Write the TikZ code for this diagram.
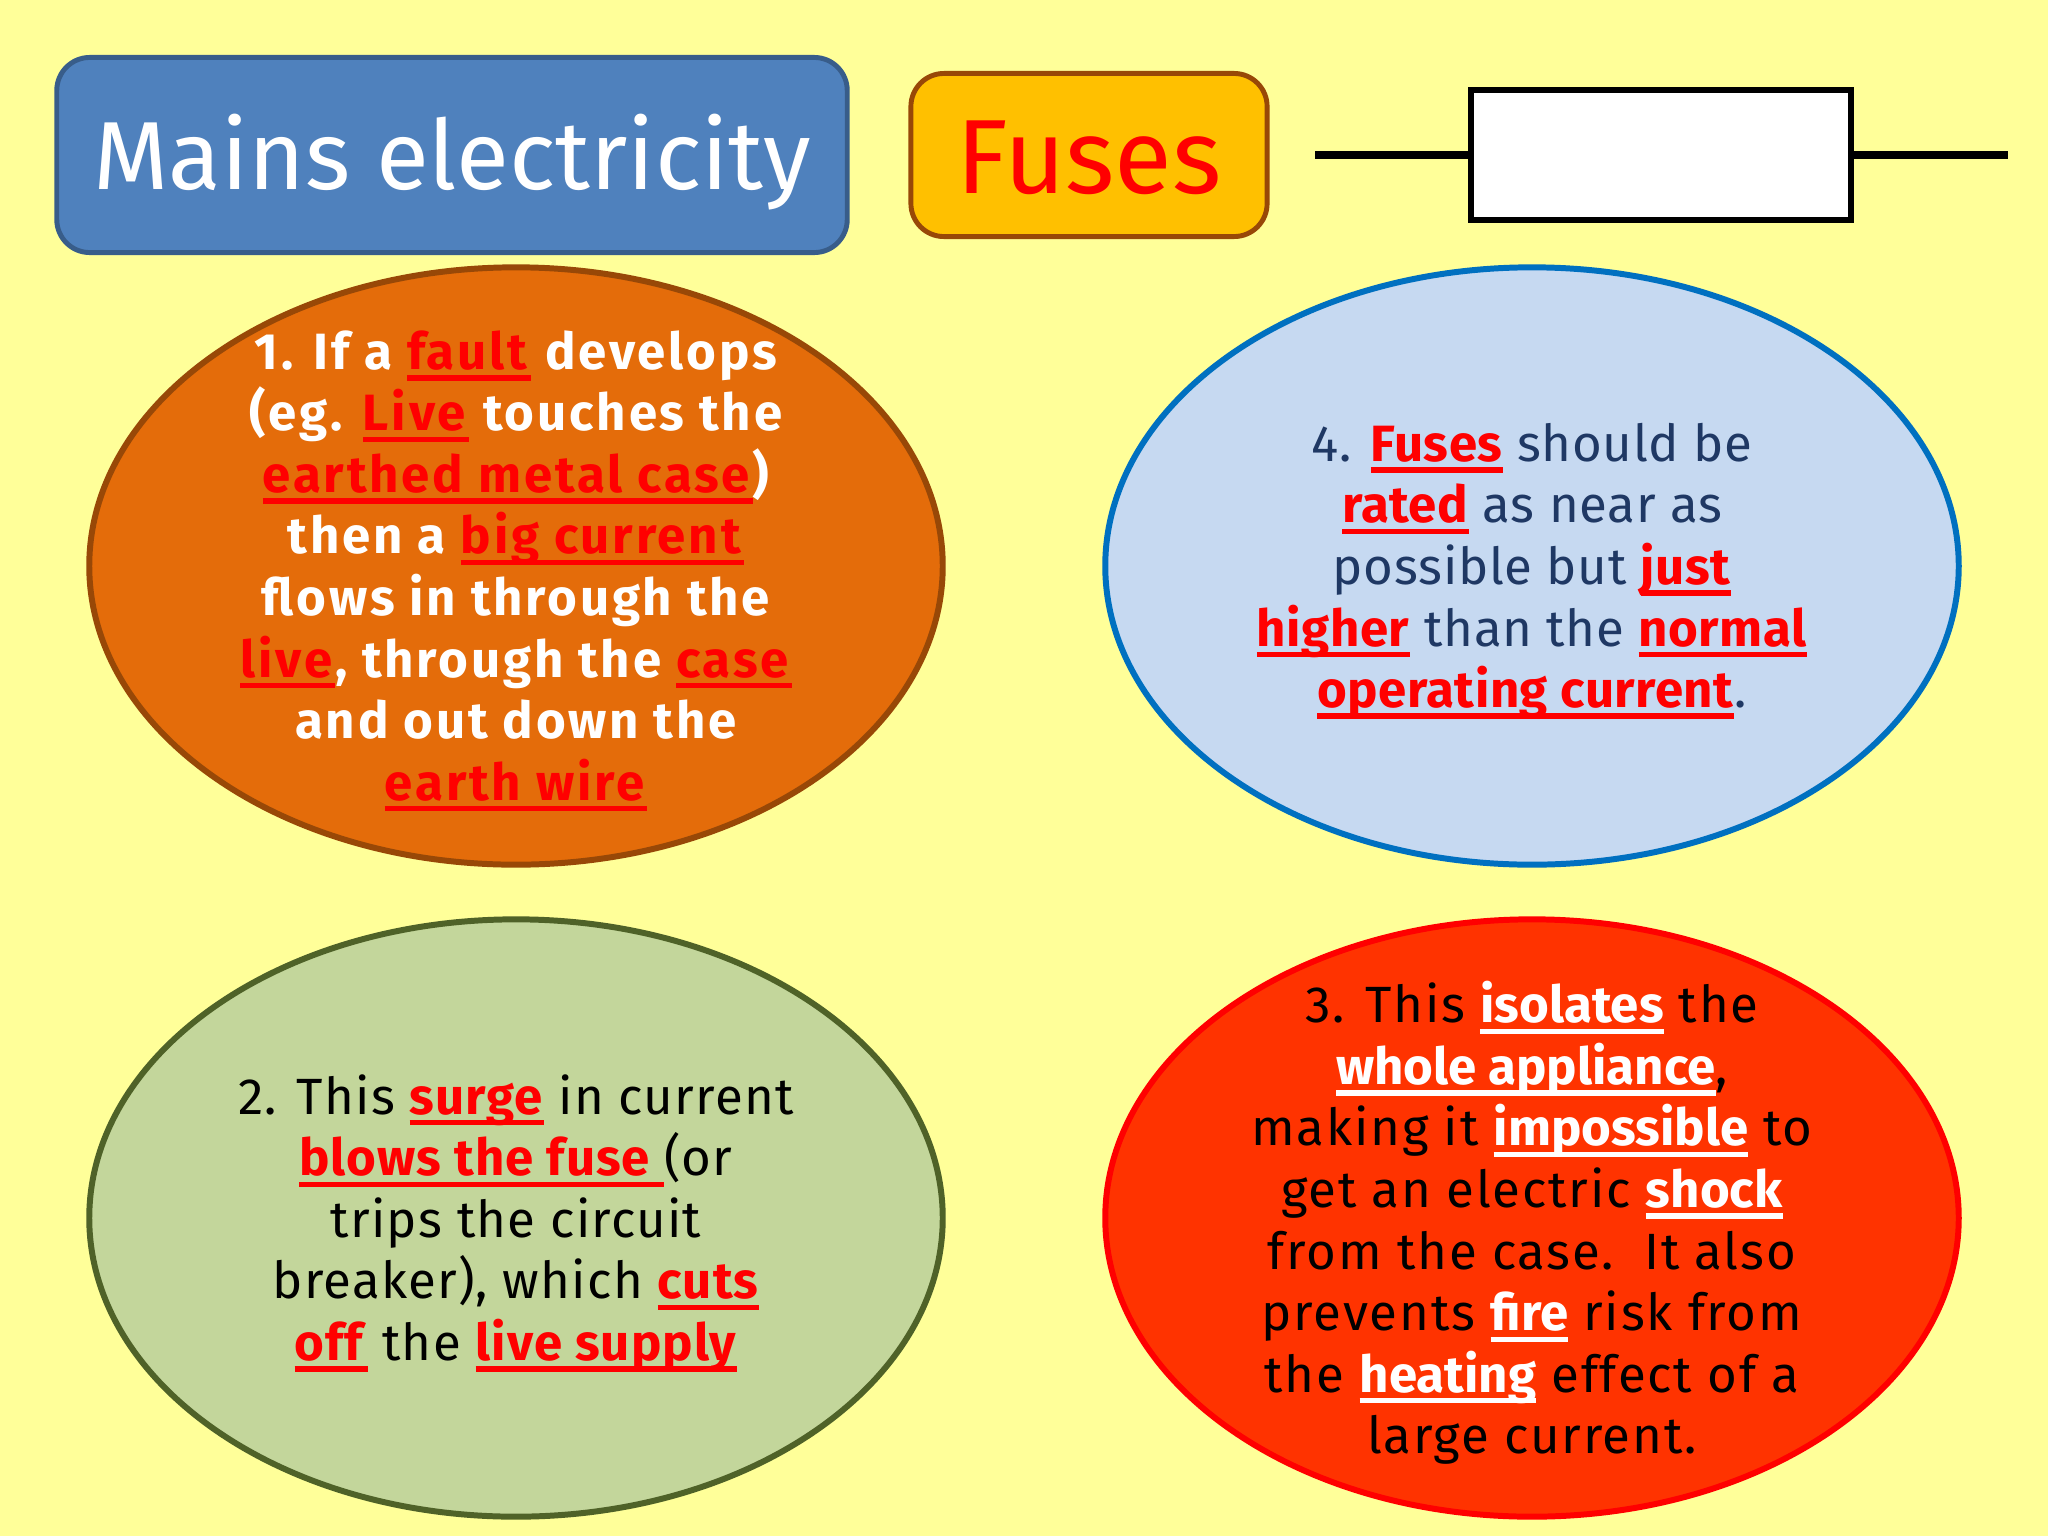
\documentclass[tikz,border=0pt]{standalone}
\usepackage{fontspec}
\setmainfont{Fira Sans}[LetterSpace=2.5]
\newcommand{\ulstyle}{}
\newcommand{\ul}[2][red]{\textcolor{#1}{\setbox0=\hbox{\ulstyle\textbf{#2}}\rlap{\rule[-0.22em]{\wd0}{1.5pt}}\box0}}
\newcommand{\bodyfont}[2]{\fontsize{14.5}{17.5}\selectfont\addfontfeatures{LetterSpace=#1}\renewcommand{\ulstyle}{\addfontfeatures{LetterSpace=#2}}}
\usetikzlibrary{shapes.geometric}
\tikzset{
  oval/.style={shape=ellipse,line width=1.7pt,minimum width=8.53cm,minimum height=5.97cm,inner sep=0pt},
  body/.style={align=center,inner sep=0pt},
  title/.style={rounded corners=0.33cm,line width=1.4pt}
}
\definecolor{bg}{HTML}{FFFF99}
\begin{document}
\begin{tikzpicture}[x=0.01cm,y=-0.01cm]
\useasboundingbox (0,0) rectangle (2048,1536);
\fill[bg] (0,0) rectangle (2048,1536);
\node[title,draw={rgb,255:red,56;green,93;blue,138},fill={rgb,255:red,79;green,129;blue,189},minimum width=7.9cm,minimum height=1.95cm] (t1) at (452,155) {};
\node[font=\fontsize{27.5}{30}\selectfont,text=white] (t1t) at (452,162) {\addfontfeatures{LetterSpace=0}Mains electricity};
\node[title,draw={rgb,255:red,152;green,72;blue,7},fill={rgb,255:red,255;green,192;blue,0},minimum width=3.56cm,minimum height=1.63cm] (t2) at (1089,155) {};
\node[font=\fontsize{30}{33}\selectfont,text=red] (t2t) at (1089,158) {\addfontfeatures{LetterSpace=0}Fuses};
\node[draw=black,fill=white,line width=1.5pt,minimum width=3.8cm,minimum height=1.3cm,inner sep=0pt] (fuse) at (1661,155) {};
\coordinate (fl) at (1315,155);
\coordinate (fr) at (2008,155);
\draw[line width=2pt] (fl) -- (fuse.west);
\draw[line width=2pt] (fuse.east) -- (fr);
\node[oval,draw={rgb,255:red,152;green,72;blue,7},fill={rgb,255:red,228;green,108;blue,10}] (a) at (516,566) {};
\node[body,text=white,font=\bodyfont{5.5}{5.5}\bfseries] (at) at (516,571) {1. If a \ul{fault} develops\\(eg. \ul{Live} touches the\\\ul{earthed metal case})\\then a \ul{big current}\\flows in through the\\\ul{live}, through the \ul{case}\\and out down the\\\ul{earth wire}};
\node[oval,draw={rgb,255:red,0;green,112;blue,192},fill={rgb,255:red,198;green,217;blue,241}] (b) at (1532,566) {};
\node[body,text={rgb,255:red,31;green,56;blue,100},font=\bodyfont{1.5}{1}] (bt) at (1532,571) {4. \ul{Fuses} should be\\\ul{rated} as near as\\possible but \ul{just}\\\ul{higher} than the \ul{normal}\\\ul{operating current}.};
\node[oval,draw={rgb,255:red,79;green,98;blue,40},fill={rgb,255:red,195;green,214;blue,155}] (c) at (516,1218) {};
\node[body,text=black,font=\bodyfont{2.5}{2}] (ct) at (516,1223) {2. This \ul{surge} in current\\\ul{blows the fuse }(or\\trips the circuit\\breaker), which \ul{cuts}\\\ul{off} the \ul{live supply}};
\node[oval,draw=red,fill={rgb,255:red,255;green,51;blue,0}] (d) at (1532,1218) {};
\node[body,text=black,font=\bodyfont{3.5}{0}] (dt) at (1532,1223) {3. This \ul[white]{isolates} the\\\ul[white]{whole appliance},\\making it \ul[white]{impossible} to\\get an electric \ul[white]{shock}\\from the case.\ \ It also\\prevents \ul[white]{fire} risk from\\the \ul[white]{heating} effect of a\\large current.};
\end{tikzpicture}
\end{document}
